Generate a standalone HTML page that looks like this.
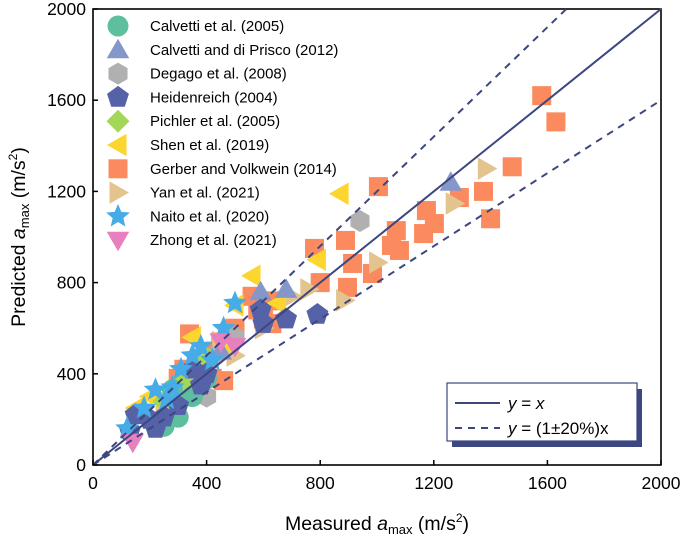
<!DOCTYPE html>
<html><head><meta charset="utf-8"><style>
html,body{margin:0;padding:0;background:#fff;}
svg{display:block;font-family:"Liberation Sans",Arial,sans-serif;}
</style></head><body>
<svg id="chart" width="685" height="540" viewBox="0 0 685 540"></svg>
<script>
const xTicks=[0,400,800,1200,1600,2000];
const yTicks=[0,400,800,1200,1600,2000];
const seriesNames=["Calvetti et al. (2005)","Calvetti and di Prisco (2012)","Degago et al. (2008)","Heidenreich (2004)","Pichler et al. (2005)","Shen et al. (2019)","Gerber and Volkwein (2014)","Yan et al. (2021)","Naito et al. (2020)","Zhong et al. (2021)"];
const calvettiX=[300,250,350,280,400];
const calvettiY=[210,170,300,330,380];
const prisciX=[1260,680,590,450,380];
const prisciY=[1240,770,760,500,420];
const degagoX=[940,500,400,280,350,420];
const degagoY=[1070,560,300,270,320,470];
const heidX=[790,680,600,590,400,380,250,220,200,150,300,350,130];
const heidY=[660,640,620,680,400,350,210,160,200,220,260,420,150];
const pichlerX=[400,300,330,250];
const pichlerY=[470,320,380,280];
const shenX=[870,790,560,500,650,350,460,300,200,150,400,250];
const shenY=[1190,900,830,700,710,560,540,340,300,250,420,200];
const gerberX=[1580,1630,1476,1375,1400,1290,1174,1202,1164,1068,1051,1079,1005,889,914,984,896,800,780,620,600,580,560,500,450,430,340,380,420,300,460,320,630];
const gerberY=[1620,1505,1308,1200,1080,1173,1116,1059,1015,1028,963,941,1221,985,884,840,779,800,950,720,640,680,740,600,540,500,575,460,380,380,370,420,620];
const yanX=[1385,1272,1002,886,760,700,600,500,450,400,300,250];
const yanY=[1300,1147,888,722,770,740,600,480,540,450,300,260];
const naitoX=[500,460,380,310,280,260,180,120,350,420,220];
const naitoY=[710,600,520,420,340,290,250,160,480,460,330];
const zhongX=[140,450,500];
const zhongY=[100,540,520];

const X0=93,X1=661,Y0=465,Y1=9;
const sx=v=>X0+(v/2000)*(X1-X0);
const sy=v=>Y0-(v/2000)*(Y0-Y1);
const svg=document.getElementById('chart');
const NS='http://www.w3.org/2000/svg';
function mk(tag,attrs,parent){const e=document.createElementNS(NS,tag);for(const k in attrs)e.setAttribute(k,attrs[k]);(parent||svg).appendChild(e);return e;}
function poly(n,r,rot){let p=[];for(let i=0;i<n;i++){const a=rot+i*2*Math.PI/n;p.push((r*Math.cos(a)).toFixed(2)+','+(r*Math.sin(a)).toFixed(2));}return p.join(' ');}
function star(r){let p=[];for(let i=0;i<10;i++){const a=-Math.PI/2+i*Math.PI/5;const rr=i%2?r*0.45:r;p.push((rr*Math.cos(a)).toFixed(2)+','+(rr*Math.sin(a)).toFixed(2));}return p.join(' ');}
const styles=[
 {c:'#5dbf9d',s:'circle'},
 {c:'#8596c8',s:'tri-up'},
 {c:'#b0b0b0',s:'hex'},
 {c:'#5562a8',s:'pent'},
 {c:'#a4d65a',s:'diamond'},
 {c:'#fcd52e',s:'tri-left'},
 {c:'#fb8a5e',s:'square'},
 {c:'#e3c38e',s:'tri-right'},
 {c:'#45ace8',s:'star'},
 {c:'#e87fbf',s:'tri-down'}];
function marker(g,shape,color,x,y){
 const t=`translate(${x.toFixed(1)},${y.toFixed(1)})`;
 let e;
 switch(shape){
  case 'circle':e=mk('circle',{cx:x,cy:y,r:10.5,fill:color},g);break;
  case 'square':e=mk('rect',{x:x-9.5,y:y-9.5,width:19,height:19,fill:color},g);break;
  case 'tri-up':e=mk('polygon',{points:poly(3,13,-Math.PI/2),transform:t+' translate(0,2)',fill:color},g);break;
  case 'tri-down':e=mk('polygon',{points:poly(3,13,Math.PI/2),transform:t+' translate(0,-2)',fill:color},g);break;
  case 'tri-left':e=mk('polygon',{points:poly(3,13,Math.PI),transform:t+' translate(2,0)',fill:color},g);break;
  case 'tri-right':e=mk('polygon',{points:poly(3,13,0),transform:t+' translate(-2,0)',fill:color},g);break;
  case 'hex':e=mk('polygon',{points:poly(6,11,Math.PI/2),transform:t,fill:color},g);break;
  case 'pent':e=mk('polygon',{points:poly(5,11.5,-Math.PI/2),transform:t,fill:color},g);break;
  case 'diamond':e=mk('polygon',{points:'0,-11.5 11.5,0 0,11.5 -11.5,0',transform:t,fill:color},g);break;
  case 'star':e=mk('polygon',{points:star(12.5),transform:t,fill:color},g);break;
 }
 return e;
}
const frame=mk('rect',{x:X0,y:Y1,width:X1-X0,height:Y0-Y1,fill:'none',stroke:'#000','stroke-width':1.6});


const seriesData=[[calvettiX,calvettiY],[prisciX,prisciY],[degagoX,degagoY],[heidX,heidY],[pichlerX,pichlerY],[shenX,shenY],[gerberX,gerberY],[yanX,yanY],[naitoX,naitoY],[zhongX,zhongY]];
const drawOrder=[6,7,5,2,1,4,0,3,8,9];
drawOrder.forEach(i=>{
 const g=mk('g',{});
 
 
 const [xs,ys]=seriesData[i];
 xs.forEach((v,j)=>{const m=marker(g,styles[i].s,styles[i].c,sx(v),sy(ys[j]));
  
  });
});
const l1=mk('line',{x1:sx(0),y1:sy(0),x2:sx(2000),y2:sy(2000),stroke:'#3c4680','stroke-width':2});


const l2=mk('line',{x1:sx(0),y1:sy(0),x2:sx(2000/1.2),y2:sy(2000),stroke:'#3c4680','stroke-width':2,'stroke-dasharray':'7,6'});


const l3=mk('line',{x1:sx(0),y1:sy(0),x2:sx(2000),y2:sy(1600),stroke:'#3c4680','stroke-width':2,'stroke-dasharray':'7,6'});


xTicks.forEach(v=>{
 mk('line',{x1:sx(v),y1:Y0,x2:sx(v),y2:Y0-5,stroke:'#000','stroke-width':1.5});
 const t=mk('text',{x:sx(v),y:Y0+24,'text-anchor':'middle','font-size':17.5});t.textContent=v;
 
 
});
yTicks.forEach(v=>{
 mk('line',{x1:X0,y1:sy(v),x2:X0+5,y2:sy(v),stroke:'#000','stroke-width':1.5});
 const t=mk('text',{x:X0-7,y:sy(v)+6,'text-anchor':'end','font-size':17.5});t.textContent=v;
 
 
});
seriesNames.forEach((n,i)=>{
 const y=26+i*23.8;
 const g=mk('g',{});
 
 
 marker(g,styles[i].s,styles[i].c,118,y);
 const t=mk('text',{x:150,y:y+5,'font-size':15},g);t.textContent=n;
});
</script>
<svg style="position:absolute;left:0;top:0" width="685" height="540">
 <rect x="452" y="389" width="190" height="58" fill="#3c4680"/>
 <rect x="447" y="383" width="190" height="58" fill="#fff" stroke="#3c4680" stroke-width="1.2"/>
 <line x1="455" y1="403" x2="500" y2="403" stroke="#3c4680" stroke-width="2"/>
 <text x="508" y="409" font-size="17" font-family="Liberation Sans,sans-serif"><tspan font-style="italic">y</tspan> = <tspan font-style="italic">x</tspan></text>
 <line x1="455" y1="428" x2="500" y2="428" stroke="#3c4680" stroke-width="2" stroke-dasharray="7,6"/>
 <text x="508" y="434" font-size="17" font-family="Liberation Sans,sans-serif"><tspan font-style="italic">y</tspan> = (1±20%)x</text>
 <text x="377" y="530" text-anchor="middle" font-size="19.5" font-family="Liberation Sans,sans-serif">Measured <tspan font-style="italic">a</tspan><tspan font-size="13" dy="4">max</tspan><tspan dy="-4"> (m/s</tspan><tspan font-size="12" dy="-8">2</tspan><tspan dy="8">)</tspan></text>
 <text transform="translate(25,237) rotate(-90)" text-anchor="middle" font-size="19.5" font-family="Liberation Sans,sans-serif">Predicted <tspan font-style="italic">a</tspan><tspan font-size="13" dy="4">max</tspan><tspan dy="-4"> (m/s</tspan><tspan font-size="12" dy="-8">2</tspan><tspan dy="8">)</tspan></text>
</svg>
</body></html>
